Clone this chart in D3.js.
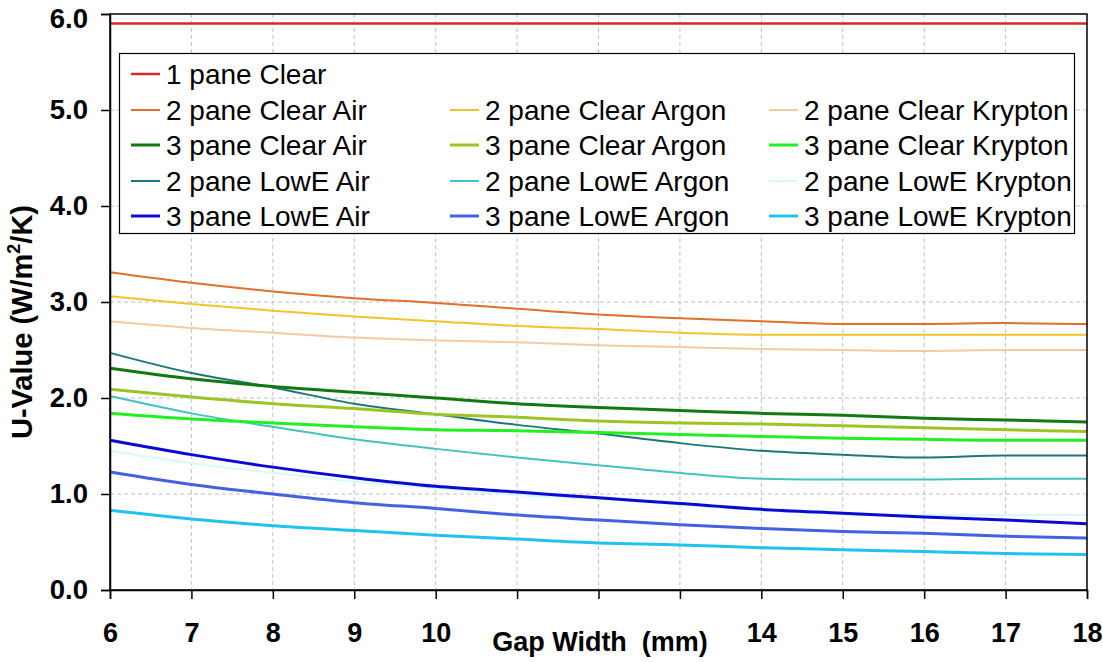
<!DOCTYPE html>
<html><head><meta charset="utf-8">
<script src="https://cdn.jsdelivr.net/npm/d3@7"></script>
<style>body{margin:0;background:#fff}svg{display:block}text{font-family:Arial,"Liberation Sans",sans-serif}</style>
</head><body>
<svg id="c" width="1103" height="662"></svg>
<script>
const gaps = [6,7,8,9,10,11,12,13,14,15,16,17,18];
const xTickLabels = [6,7,8,9,10,14,15,16,17,18];
const yTicks = [0,1,2,3,4,5,6];
const seriesNames = ["1 pane Clear","2 pane Clear Air","2 pane Clear Argon","2 pane Clear Krypton","3 pane Clear Air","3 pane Clear Argon","3 pane Clear Krypton","2 pane LowE Air","2 pane LowE Argon","2 pane LowE Krypton","3 pane LowE Air","3 pane LowE Argon","3 pane LowE Krypton"];
const pane1Clear      = [5.9,5.9,5.9,5.9,5.9,5.9,5.9,5.9,5.9,5.9,5.9,5.9,5.9];
const pane2ClearAir   = [3.31,3.20,3.11,3.04,2.99,2.93,2.87,2.83,2.80,2.77,2.77,2.78,2.77];
const pane2ClearAr    = [3.06,2.98,2.91,2.85,2.80,2.75,2.72,2.68,2.66,2.66,2.66,2.66,2.66];
const pane2ClearKr    = [2.80,2.73,2.68,2.63,2.60,2.58,2.55,2.53,2.51,2.50,2.49,2.50,2.50];
const pane3ClearAir   = [2.31,2.20,2.12,2.06,2.00,1.94,1.90,1.87,1.84,1.82,1.79,1.77,1.75];
const pane3ClearAr    = [2.09,2.01,1.94,1.89,1.83,1.80,1.76,1.74,1.73,1.71,1.69,1.67,1.65];
const pane3ClearKr    = [1.84,1.78,1.74,1.70,1.67,1.66,1.64,1.62,1.60,1.58,1.57,1.56,1.56];
const pane2LowEAir    = [2.47,2.26,2.11,1.94,1.83,1.72,1.63,1.53,1.45,1.41,1.38,1.40,1.40];
const pane2LowEAr     = [2.02,1.84,1.70,1.57,1.47,1.38,1.30,1.22,1.16,1.15,1.15,1.16,1.16];
const pane2LowEKr     = [1.45,1.32,1.22,1.13,1.06,0.99,0.95,0.89,0.83,0.79,0.78,0.78,0.78];
const pane3LowEAir    = [1.56,1.41,1.28,1.17,1.08,1.02,0.96,0.90,0.84,0.80,0.76,0.73,0.69];
const pane3LowEAr     = [1.23,1.10,1.00,0.91,0.85,0.78,0.73,0.68,0.64,0.61,0.59,0.56,0.54];
const pane3LowEKr     = [0.83,0.74,0.67,0.62,0.57,0.53,0.49,0.47,0.44,0.42,0.40,0.38,0.37];
const seriesValues = [pane1Clear,pane2ClearAir,pane2ClearAr,pane2ClearKr,pane3ClearAir,pane3ClearAr,pane3ClearKr,pane2LowEAir,pane2LowEAr,pane2LowEKr,pane3LowEAir,pane3LowEAr,pane3LowEKr];
const colors = ["#d42a24","#e0702a","#f2c42a","#f5caa2","#127812","#9cc424","#22f022","#1c7878","#44c2c2","#d4fafa","#0a0ad4","#4262e0","#22c2f0"];
const widths = [2.5,2,2,2,3,3,3,2,2,2,3,3,3];

const svg = d3.select("#c");
const L=110, R=1087, T=14, B=590;
const x = d3.scaleLinear().domain([6,18]).range([L,R]);
const y = d3.scaleLinear().domain([0,6]).range([B,T]);

const g = svg.append("g");
g.selectAll("line.vg").data(gaps.slice(1,-1)).join("line")
  .attr("x1",d=>x(d)).attr("x2",d=>x(d)).attr("y1",T).attr("y2",B)
  .attr("stroke","#c0c0c0").attr("stroke-dasharray","4,3").attr("stroke-width",1);
g.selectAll("line.hg").data(yTicks.slice(1,-1)).join("line")
  .attr("y1",d=>y(d)).attr("y2",d=>y(d)).attr("x1",L).attr("x2",R)
  .attr("stroke","#c0c0c0").attr("stroke-dasharray","4,3").attr("stroke-width",1);

const line = d3.line().x((d,i)=>x(gaps[i])).y(d=>y(d)).curve(d3.curveMonotoneX);
const order = [3,2,1,9,8,7,6,5,4,12,11,10];
order.forEach(i=>{
  svg.append("path").attr("d",line(seriesValues[i])).attr("fill","none")
    .attr("stroke",colors[i]).attr("stroke-width",widths[i]);
});

const lg = svg.append("g");
lg.append("rect").attr("x",119.5).attr("y",53.5).attr("width",955).attr("height",180)
  .attr("fill","#fff").attr("stroke","#000").attr("stroke-width",1.2);
const colX = [131,450,769];
const rowY = [74,110,145,181,216];
const legendPos = [[0,0],[0,1],[1,1],[2,1],[0,2],[1,2],[2,2],[0,3],[1,3],[2,3],[0,4],[1,4],[2,4]];
legendPos.forEach(([c,r],i)=>{
  lg.append("line").attr("x1",colX[c]).attr("x2",colX[c]+29).attr("y1",rowY[r]).attr("y2",rowY[r])
    .attr("stroke",colors[i]).attr("stroke-width",widths[i]);
  lg.append("text").attr("x",colX[c]+35).attr("y",rowY[r]+10).attr("font-size",28)
    .attr("fill","#000").text(seriesNames[i]);
});

svg.append("path").attr("d",line(seriesValues[0])).attr("fill","none")
  .attr("stroke",colors[0]).attr("stroke-width",widths[0]);

svg.append("rect").attr("x",L).attr("y",T).attr("width",R-L).attr("height",B-T)
  .attr("fill","none").attr("stroke","#000").attr("stroke-width",1.5);

const yAxis = d3.axisLeft(y).tickValues(yTicks).tickSize(9).tickPadding(13).tickFormat(d3.format(".1f"));
const ya = svg.append("g").attr("transform",`translate(${L},0)`).call(yAxis);
ya.select(".domain").attr("stroke","#000").attr("stroke-width",1.5);
ya.selectAll(".tick line").attr("stroke","#000").attr("stroke-width",1.5);
ya.selectAll(".tick text").attr("font-size",27.5).attr("font-weight","bold").attr("fill","#000")
  .attr("font-family","Arial, 'Liberation Sans', sans-serif")
  .attr("dy",d=>d===6?"0.48em":"0.32em");

const xAxis = d3.axisBottom(x).tickValues(gaps).tickSize(9).tickPadding(24)
  .tickFormat(d=>xTickLabels.includes(d)?String(d):"");
const xa = svg.append("g").attr("transform",`translate(0,${B})`).call(xAxis);
xa.select(".domain").attr("stroke","#000").attr("stroke-width",1.5);
xa.selectAll(".tick line").attr("stroke","#000").attr("stroke-width",1.5);
xa.selectAll(".tick text").attr("font-size",27).attr("font-weight","bold").attr("fill","#000")
  .attr("font-family","Arial, 'Liberation Sans', sans-serif");

svg.append("text").attr("x",600).attr("y",651).attr("text-anchor","middle")
  .attr("font-size",27).attr("font-weight","bold")
  .style("white-space","pre").text("Gap Width  (mm)");
const yt = svg.append("text").attr("transform","translate(32,322) rotate(-90)")
  .attr("text-anchor","middle").attr("font-size",29).attr("font-weight","bold");
yt.append("tspan").text("U-Value (W/m");
yt.append("tspan").attr("font-size",18).attr("dy",-12).text("2");
yt.append("tspan").attr("dy",12).text("/K)");
</script>
</body></html>
